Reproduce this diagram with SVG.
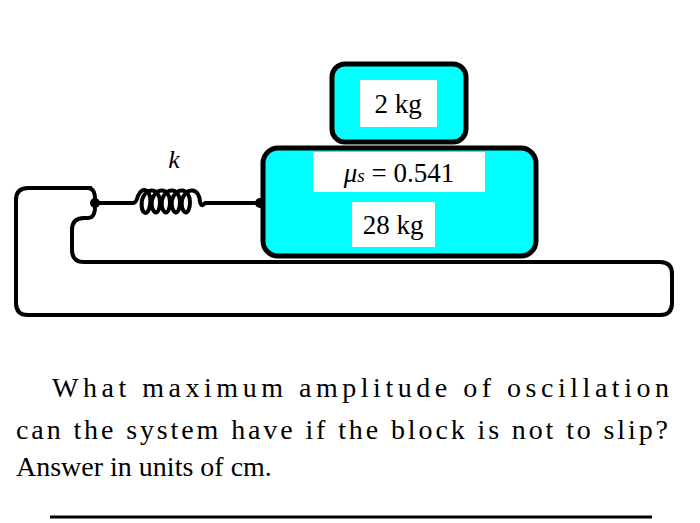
<svg xmlns="http://www.w3.org/2000/svg" width="700" height="523" viewBox="0 0 700 523">
<style>
.blk{fill:#00ffff;stroke:#000;stroke-width:5}
.lbl{fill:#fff}
.t{font-family:"Liberation Serif",serif;fill:#000}
.w{fill:none;stroke:#000;stroke-width:4;stroke-linejoin:round}
</style>
<rect width="700" height="523" fill="#fff"/>
<g id="connectors">
<path class="w" d="M92 188 H28 Q16 188 16 200 V303 Q16 315 28 315 H660 Q672 315 672 303 V274 Q672 262 660 262 H84 Q72 262 72 250 V230 Q72 218 84 218 H88 Q96 218 95 203 Q96 188 88 188"/>
<path class="w" stroke-width="3" d="M95 203 H133 Q136 203 138 196 C142 185 152 190 150 205 C148 218 140 214 142 200 C146 186 160 188 160 202 C160 218 150 214 152 200 C156 186 170 188 170 202 C170 218 160 214 162 200 C166 186 180 188 180 202 C180 218 170 214 172 200 C176 186 190 188 190 202 C190 218 180 214 182 200 C186 186 200 188 200 202 Q202 208 205 203 H260"/>
<circle cx="95" cy="203" r="5"/>
<circle cx="260" cy="203" r="5"/>
</g>
<g id="spring-label"><text class="t" x="174" y="168" font-size="26" font-style="italic" text-anchor="middle">k</text></g>
<g id="block-top">
<rect class="blk" x="332" y="64" width="134" height="78" rx="13"/>
<rect class="lbl" x="360" y="80" width="77" height="47"/>
<text class="t" x="398" y="113" font-size="27" text-anchor="middle">2 kg</text>
</g>
<g id="block-bottom">
<rect class="blk" x="263" y="148" width="273" height="108" rx="15"/>
<rect class="lbl" x="313" y="152" width="172" height="40"/>
<text class="t" x="399" y="182" font-size="27" text-anchor="middle"><tspan font-style="italic">μ</tspan><tspan font-style="italic" font-size="19">s</tspan> = 0.541</text>
<rect class="lbl" x="352" y="202" width="83" height="45"/>
<text class="t" x="393" y="234" font-size="27" text-anchor="middle">28 kg</text>
</g>
<g id="question">
<text class="t" x="52" y="397" font-size="28" textLength="617" lengthAdjust="spacing">What maximum amplitude of oscillation</text>
<text class="t" x="16" y="439" font-size="28" textLength="652" lengthAdjust="spacing">can the system have if the block is not to slip?</text>
<text class="t" x="16" y="476" font-size="28">Answer in units of  cm.</text>
<line x1="50" y1="517" x2="652" y2="517" stroke="#000" stroke-width="3"/>
</g>
</svg>
